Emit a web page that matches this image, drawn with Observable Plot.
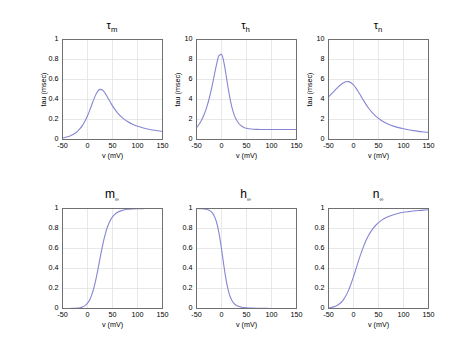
<!DOCTYPE html>
<html>
<head>
<meta charset="utf-8">
<script src="https://cdn.jsdelivr.net/npm/d3@7"></script>
<script src="https://cdn.jsdelivr.net/npm/@observablehq/plot@0.6"></script>
<style>
  html, body { margin: 0; padding: 0; background: #fff; }
  #wrap { position: relative; width: 474px; height: 360px; background: #fff; overflow: hidden; font-family: "Liberation Sans", Arial, sans-serif; }
  #wrap svg { position: absolute; overflow: visible; }
  .ttl { position: absolute; width: 100px; text-align: center; color: #000; font-family: "Liberation Sans", Arial, sans-serif; line-height: 1; }
  .ttl sub { font-size: 70%; vertical-align: -0.45em; }
  .ttl.bot sub { font-size: 45%; vertical-align: -0.6em; }
</style>
</head>
<body>
<div id="wrap"></div>
<script>
// membrane potential (mV)
const v = [-50,-45,-40,-35,-30,-25,-20,-15,-10,-5,0,5,10,15,20,25,30,35,40,45,50,55,60,70,80,90,100,110,120,130,140,150];
// time constants (msec)
const tauM = [0.0156,0.0205,0.0271,0.0358,0.0472,0.0622,0.0820,0.1078,0.141,0.184,0.237,0.299,0.367,0.431,0.479,0.501,0.494,0.464,0.423,0.379,0.336,0.299,0.267,0.216,0.180,0.153,0.133,0.118,0.105,0.095,0.087,0.080];
const tauH = [1.172,1.504,1.930,2.473,3.163,4.026,5.076,6.282,7.496,8.389,8.516,7.670,6.185,4.641,3.394,2.515,1.939,1.576,1.350,1.212,1.128,1.077,1.046,1.016,1.005,1.002,1.000,1.000,1.000,1.000,1.000,1.000];
const tauN = [4.255,4.511,4.773,5.033,5.282,5.502,5.675,5.775,5.783,5.676,5.458,5.142,4.755,4.335,3.913,3.514,3.152,2.832,2.554,2.314,2.108,1.931,1.778,1.530,1.339,1.189,1.068,0.969,0.887,0.817,0.757,0.705];
// steady-state values
const mInf = [0.0001,0.0001,0.0003,0.0005,0.0011,0.0021,0.0042,0.0080,0.0154,0.0289,0.0529,0.0936,0.158,0.251,0.369,0.501,0.627,0.734,0.817,0.876,0.916,0.944,0.962,0.982,0.992,0.996,0.998,0.999,0.9995,0.9997,0.9998,0.9999];
const hInf = [0.9996,0.9992,0.9982,0.9963,0.9922,0.9836,0.966,0.931,0.865,0.754,0.596,0.418,0.263,0.154,0.087,0.051,0.030,0.019,0.013,0.009,0.0065,0.0048,0.0036,0.0021,0.0013,0.0008,0.0005,0.0003,0.0002,0.0001,0.0001,0.0000];
const nInf = [0.0063,0.0102,0.0162,0.0254,0.0394,0.060,0.089,0.129,0.181,0.245,0.318,0.396,0.476,0.551,0.619,0.679,0.729,0.771,0.806,0.835,0.859,0.879,0.895,0.920,0.938,0.952,0.962,0.969,0.975,0.980,0.984,0.987];
// tick labels
const xTicks = [-50, 0, 50, 100, 150];
const yTicksUnit = [0, 0.2, 0.4, 0.6, 0.8, 1];
const yTicksTen = [0, 2, 4, 6, 8, 10];
const titles = [["τ","m"],["τ","h"],["τ","n"],["m","∞"],["h","∞"],["n","∞"]];
const xLabel = "v (mV)";
const yLabel = "tau (msec)";

const series = [tauM, tauH, tauN, mInf, hInf, nInf];
const yMax = [1, 10, 10, 1, 1, 1];
const yTickSets = [yTicksUnit, yTicksTen, yTicksTen, yTicksUnit, yTicksUnit, yTicksUnit];

const colLeft = [62, 195.5, 328];
const rowTop = [38.5, 207.5];
const PW = 100, PH = 100;
const mL = 40, mR = 10, mT = 10, mB = 30;

const wrap = document.getElementById("wrap");

series.forEach((ys, i) => {
  const col = i % 3, row = Math.floor(i / 3);
  const data = v.map((x, k) => ({v: x, y: ys[k]}));
  const yt = yTickSets[i];
  const chart = Plot.plot({
    width: PW + mL + mR,
    height: PH + mT + mB,
    marginLeft: mL, marginRight: mR, marginTop: mT, marginBottom: mB,
    style: {fontFamily: "'Liberation Sans', Arial, sans-serif", fontSize: "7.2px", color: "#000", background: "transparent", overflow: "visible"},
    x: {domain: [-50, 150], tickFormat: d => String(d), label: null},
    y: {domain: [0, yMax[i]], tickFormat: d => String(d), label: null},
    marks: [
      Plot.gridX(xTicks, {stroke: "#e2e2e2", strokeOpacity: 1, strokeWidth: 0.8}),
      Plot.gridY(yt, {stroke: "#e2e2e2", strokeOpacity: 1, strokeWidth: 0.8}),
      Plot.line(data, {x: "v", y: "y", stroke: "#8686d4", strokeWidth: 1.1, curve: "monotone-x"}),
      Plot.frame({stroke: "#707070", strokeWidth: 1}),
      Plot.axisX({ticks: xTicks, tickFormat: d => String(d), tickSize: 0, tickPadding: 3,
        label: xLabel, labelAnchor: "center", labelArrow: "none", labelOffset: 18}),
      Plot.axisY({ticks: yt, tickFormat: d => String(d), tickSize: 0, tickPadding: 4, dy: -1,
        label: row === 0 ? yLabel : null, labelAnchor: "center", labelArrow: "none", labelOffset: 22})
    ]
  });
  chart.style.left = (colLeft[col] - mL) + "px";
  chart.style.top = (rowTop[row] - mT) + "px";
  wrap.appendChild(chart);

  const t = document.createElement("div");
  t.className = "ttl" + (row === 1 ? " bot" : "");
  t.style.left = colLeft[col] + "px";
  t.style.top = (row === 0 ? 20 : 188) + "px";
  t.style.fontSize = (row === 0 ? 11 : 12) + "px";
  t.innerHTML = titles[i][0] + "<sub>" + titles[i][1] + "</sub>";
  wrap.appendChild(t);
});
</script>
</body>
</html>
